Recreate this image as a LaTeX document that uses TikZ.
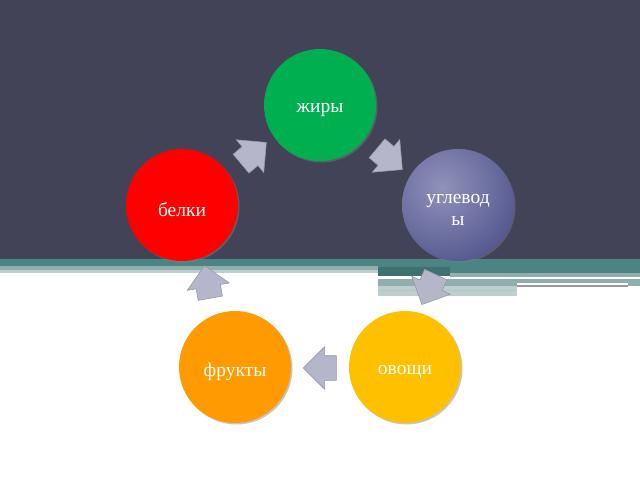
\documentclass[tikz,border=0pt]{standalone}
\usepackage{fontspec}
\setmainfont{Liberation Serif}
\usetikzlibrary{shapes.arrows,shadows,calc}
\definecolor{bgdark}{HTML}{434357}
\definecolor{teal1}{HTML}{4A8584}
\definecolor{teal2}{HTML}{3E7170}
\definecolor{teal3}{HTML}{8FAEAD}
\definecolor{teal4}{HTML}{BCCFCE}
\definecolor{cgreen}{HTML}{00B050}
\definecolor{cred}{HTML}{FF0000}
\definecolor{corange}{HTML}{FF9B00}
\definecolor{cyellow}{HTML}{FFC000}
\definecolor{cpurpleA}{HTML}{9092BA}
\definecolor{cpurpleB}{HTML}{55588F}
\definecolor{arrfill}{HTML}{B6B6CA}
\definecolor{arredge}{HTML}{9898AE}
\tikzset{
  ball/.style={circle, minimum size=112pt, inner sep=0pt,
    drop shadow={opacity=0.45, shadow xshift=1.5pt, shadow yshift=-1.5pt}},
  balltext/.style={text=white, font=\fontsize{19.5}{21}\selectfont, align=center, inner sep=0pt},
  blockarrow/.style={single arrow, fill=arrfill, draw=arredge, line width=0.6pt,
    inner xsep=0pt, inner ysep=12pt, minimum height=33pt,
    single arrow head extend=9pt, single arrow head indent=0pt}
}
\begin{document}
\begin{tikzpicture}[x=1pt,y=-1pt]
\useasboundingbox (0,0) rectangle (640,480);
\fill[white] (0,0) rectangle (640,480);
% background
\fill[bgdark] (0,0) rectangle (640,260);
\fill[teal1] (0,259) rectangle (640,267);
\fill[teal3] (0,266) rectangle (378,269.5);
\fill[teal4] (0,269.5) rectangle (378,273);
% right stripes
\fill[teal2] (378,267) rectangle (450,276);
\fill[teal1] (450,267) rectangle (640,273);
\fill[teal3] (450,273) rectangle (640,277);
\fill[white] (378,276.5) rectangle (593,279);
\fill[teal3] (378,279) rectangle (640,286);
\fill[white] (517,282.5) rectangle (628,285);
\fill[gray!80] (517,285) rectangle (628,287);
\fill[teal4] (378,286) rectangle (517,296);
\fill[teal3!70] (378,290) rectangle (517,291);
% circles
\node[ball, fill=cgreen] (zh) at (320,105) {};
\node[ball, fill=cred] (be) at (182,205) {};
\node[ball, fill=cpurpleB,
  path picture={\shade[inner color=cpurpleA, outer color=cpurpleB]
    ($(path picture bounding box.center)+(-16,-18)$) circle (80);}] (ug) at (458,205) {};
\node[ball, fill=corange] (fr) at (235,367) {};
\node[ball, fill=cyellow] (ov) at (405,367) {};
% labels
\node[balltext] (tzh) at ($(zh)+(0,5)$) {жиры};
\node[balltext] (tbe) at ($(be)+(0,5)$) {белки};
\node[balltext] (tug) at ($(ug)+(0,5)$) {углевод\\[1pt]ы};
\node[balltext] (tfr) at ($(fr)+(0,5)$) {фрукты};
\node[balltext] (tov) at ($(ov)+(0,5)$) {овощи};
% block arrows
\node[blockarrow, rotate=40] (a1) at ($(be)!0.5!(zh)+(-2,2)$) {};
\node[blockarrow, rotate=-40] (a2) at ($(zh)!0.5!(ug)+(-4,0)$) {};
\node[blockarrow, rotate=-115] (a3) at ($(ug)!0.5!(ov)+(0,-2)$) {};
\node[blockarrow, rotate=180] (a4) at ($(ov)!0.5!(fr)+(6,1)$) {};
\node[blockarrow, rotate=100] (a5) at ($(fr)!0.5!(be)+(0,2)$) {};
\end{tikzpicture}
\end{document}
